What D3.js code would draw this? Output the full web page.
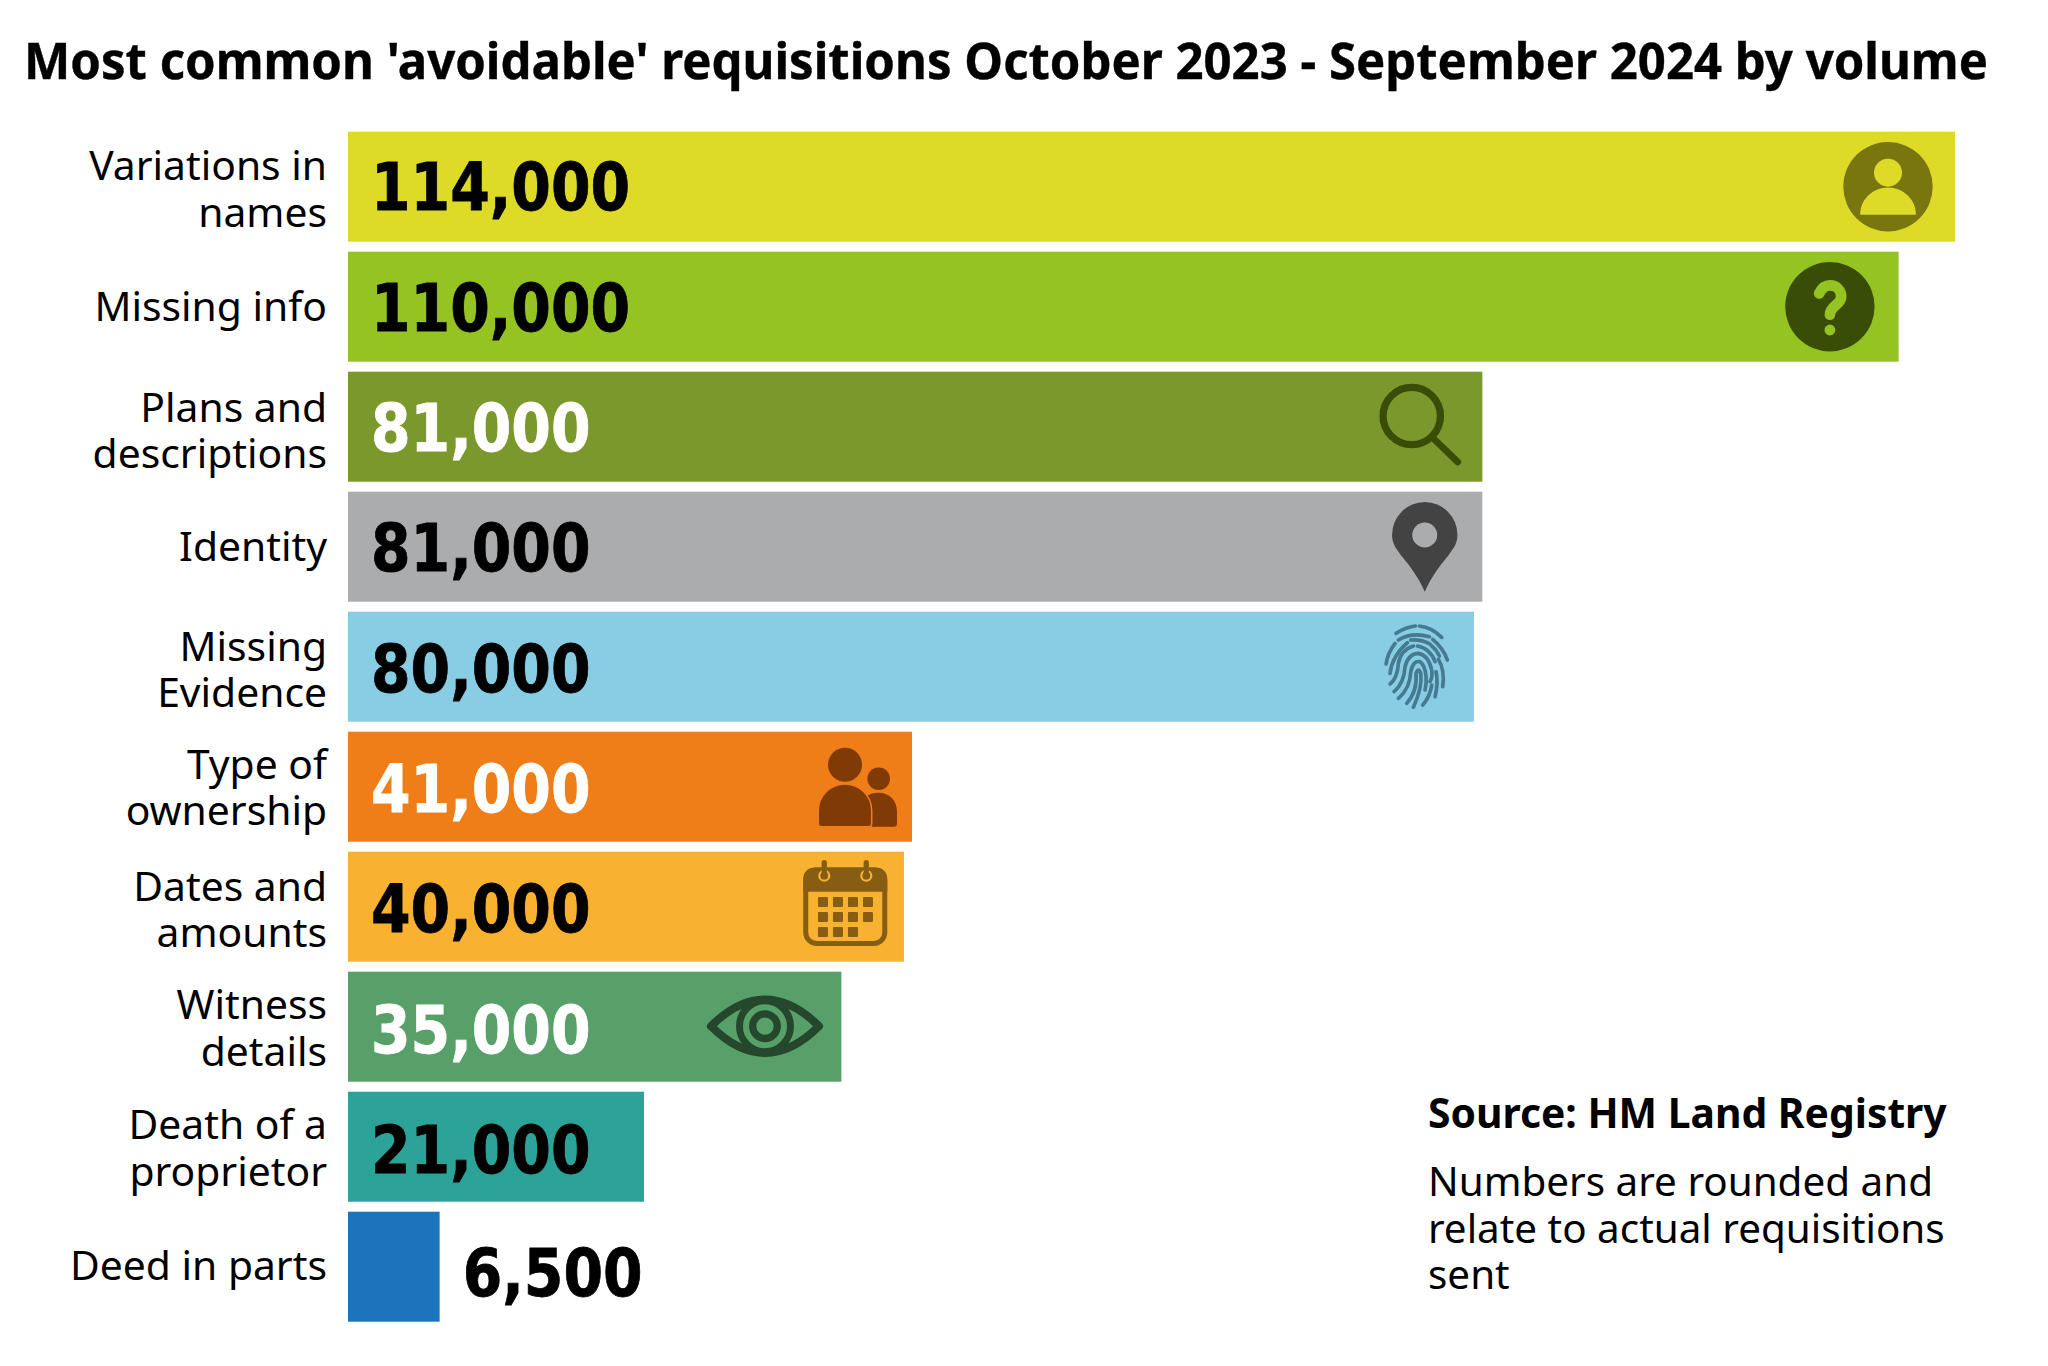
<!DOCTYPE html>
<html>
<head>
<meta charset="utf-8">
<script src="https://cdnjs.cloudflare.com/ajax/libs/d3/7.8.5/d3.min.js"></script>
<style>
  html, body { margin: 0; background: #fff; }
  text { font-family: "Noto Sans", sans-serif; fill: #000; }
</style>
</head>
<body>
<div id="chart"></div>
<script>
// data
const categories = ['Variations in|names', 'Missing info', 'Plans and|descriptions', 'Identity', 'Missing|Evidence',
  'Type of|ownership', 'Dates and|amounts', 'Witness|details', 'Death of a|proprietor', 'Deed in parts']
// bar lengths do not quite follow the printed labels, so they are kept apart
const barValues = [114000, 110000, 80470, 80470, 79880, 40010, 39440, 35000, 21000, 6500]
const valueLabels = ['114,000', '110,000', '81,000', '81,000', '80,000', '41,000', '40,000', '35,000', '21,000', '6,500']
const barColors = ['#dddb27', '#95c322', '#7a982c', '#abacae', '#88cde4', '#ef7d18', '#f8b22f', '#58a069', '#2ca398', '#1c75bc']
const iconColors = ['#79760f', '#3a4d07', '#3a4d07', '#434343', '#457a90', '#803a06', '#865d13', '#25482c']
const whiteLabels = ['Plans and|descriptions', 'Type of|ownership', 'Witness|details']
const iconNames = ['person', 'question', 'search', 'pin', 'finger', 'people', 'calendar', 'eye']
const title = "Most common 'avoidable' requisitions October 2023 - September 2024 by volume"
const sourceLine = 'Source: HM Land Registry'
const noteLines = ['Numbers are rounded and', 'relate to actual requisitions', 'sent']

const width = 2048
const height = 1366

const svg = d3.select('#chart').append('svg')
  .attr('width', width)
  .attr('height', height)
  .style('display', 'block')

const xScale = d3.scaleLinear().domain([0, 114000]).range([348, 1955])
const yScale = d3.scaleBand().domain(categories).range([131.7, 1321.7]).paddingInner(10 / 120).paddingOuter(0)
const color = d3.scaleOrdinal().domain(categories).range(barColors)
const centre = d => yScale(d) + yScale.bandwidth() / 2

// squeeze a text sideways to a share of its natural width
function condense(sel, share) {
  sel.each(function () {
    const len = this.getComputedTextLength()
    d3.select(this).attr('textLength', len * share).attr('lengthAdjust', 'spacingAndGlyphs')
  })
}

svg.append('text')
  .attr('x', 24)
  .attr('y', 79.3)
  .attr('font-size', 50)
  .attr('font-weight', 700)
  .attr('textLength', 1964)
  .attr('lengthAdjust', 'spacingAndGlyphs')
  .style('stroke', '#000')
  .style('stroke-width', 0.4)
  .text(title)

// bars
svg.selectAll('rect.bar')
  .data(categories)
  .join('rect')
  .attr('class', 'bar')
  .attr('x', xScale(0))
  .attr('y', d => yScale(d))
  .attr('width', (d, i) => xScale(barValues[i]) - xScale(0))
  .attr('height', yScale.bandwidth())
  .attr('fill', d => color(d))

// category labels, right aligned against the bars
const labelNudge = [0, 0, 1.5, 0, 0.5, -1.3, 0.5, -1, -1, -1]
svg.selectAll('text.cat')
  .data(categories)
  .join('text')
  .attr('class', 'cat')
  .attr('text-anchor', 'end')
  .attr('font-size', 40.8)
  .each(function (d, i) {
    const lines = d.split('|')
    const y0 = (lines.length > 1 ? centre(d) - 6.7 : centre(d) + 14) + labelNudge[i]
    d3.select(this).selectAll('tspan')
      .data(lines)
      .join('tspan')
      .attr('x', 327)
      .attr('y', (l, j) => y0 + j * 46.7)
      .text(l => l)
  })

// value labels, the last one sits outside its bar
const valueLabelSel = svg.selectAll('text.val')
  .data(categories)
  .join('text')
  .attr('class', 'val')
  .attr('x', (d, i) => i === 9 ? xScale(barValues[i]) + 23 : xScale(0) + 23)
  .attr('y', (d, i) => i === 9 ? centre(d) + 29.5 : centre(d) + 23.5 + i * 0.33)
  .attr('font-size', 66)
  .attr('font-weight', 700)
  .style('font-family', '"DejaVu Sans", sans-serif')
  .style('fill', d => whiteLabels.includes(d) ? '#fff' : '#000')
  .style('stroke', d => whiteLabels.includes(d) ? '#fff' : '#000')
  .style('stroke-width', 0.8)
  .text((d, i) => valueLabels[i])
valueLabelSel.call(condense, 0.862)

// icons are drawn in their own local space, offset back from the bar end
const iconOffsets = {
  person: [-67, 0], question: [-68.7, 0], search: [-70.6, -10.7], pin: [-57.6, -11.7],
  finger: [-57.3, 0], people: [-67, -22], calendar: [-58.7, 0], eye: [-76.4, -0.5]
}

const icons = {
  person(g, c, bg) {
    g.append('circle').attr('r', 44.7).attr('fill', c)
    g.append('circle').attr('cy', -14).attr('r', 14).attr('fill', bg)
    g.append('path').attr('d', 'M-28,28 A28,27.3 0 0 1 28,28 Z').attr('fill', bg)
  },
  question(g, c, bg) {
    g.append('circle').attr('r', 44.7).attr('fill', c)
    g.append('path')
      .attr('d', 'M-10.7,-13.3 C-8,-19 -4,-21.3 0,-21.3 C7,-21.3 11.3,-16 11.3,-10 C11.3,-2 0,-1 0,8')
      .attr('fill', 'none').attr('stroke', bg).attr('stroke-width', 10.7).attr('stroke-linecap', 'round')
    g.append('circle').attr('cy', 23.3).attr('r', 5.4).attr('fill', bg)
  },
  search(g, c) {
    g.append('circle').attr('r', 28.7).attr('fill', 'none').attr('stroke', c).attr('stroke-width', 7.3)
    g.append('line').attr('x1', 21.6).attr('y1', 22.3).attr('x2', 46).attr('y2', 46)
      .attr('stroke', c).attr('stroke-width', 6.7).attr('stroke-linecap', 'round')
  },
  pin(g, c, bg) {
    g.append('path')
      .attr('d', 'M-32.7,0 A32.7,33 0 0 1 32.7,0 C32.7,9 28,14 24,20 C14,32 6,43 0,56.7 C-6,43 -14,32 -24,20 C-28,14 -32.7,9 -32.7,0 Z')
      .attr('fill', c)
    g.append('circle').attr('r', 12.5).attr('fill', bg)
  },
  finger(g, c) {
    // traced in 3x units from the top left of a 80x100 box
    const strokes = [
      'M48,40 Q75,22 106,18', 'M118,18 Q155,22 185,52', 'M55,60 Q95,35 148,50', 'M158,58 Q190,85 202,120',
      'M45,70 Q22,100 18,132', 'M30,160 Q35,110 82,68', 'M92,60 Q125,58 150,72', 'M155,78 Q170,90 178,108',
      'M30,192 Q52,175 55,130 Q62,90 100,78', 'M112,78 Q150,85 165,125', 'M175,118 Q195,150 188,200',
      'M168,155 Q175,190 165,230', 'M42,215 Q72,190 75,140 Q85,100 115,100 Q145,105 155,150 Q158,170 150,185',
      'M55,235 Q90,205 92,155 Q100,120 120,125 Q135,135 138,170 Q140,190 135,210',
      'M80,250 Q112,215 108,160 Q115,140 122,160 Q128,200 100,262', 'M128,255 Q150,230 155,195'
    ]
    const f = g.append('g').attr('transform', 'scale(0.3333) translate(-110,-140)')
    f.selectAll('path').data(strokes).join('path')
      .attr('d', d => d)
      .attr('fill', 'none').attr('stroke', c).attr('stroke-width', 11).attr('stroke-linecap', 'round')
  },
  people(g, c, bg) {
    g.append('path')
      .attr('d', 'M26.7,62 L49,62 Q52,62 52,59 L52,47 C52,36 45,28 33,28 C29,28 25,29 22,31 Z')
      .attr('fill', c)
    g.append('circle').attr('cx', 33.7).attr('cy', 14).attr('r', 11.3).attr('fill', c)
    g.append('path')
      .attr('d', 'M-26.7,59 L-26.7,46 A26.7,26.7 0 0 1 26.7,46 L26.7,59 Q26.7,62 23.7,62 L-23.7,62 Q-26.7,62 -26.7,59 Z')
      .attr('fill', c).attr('stroke', bg).attr('stroke-width', 1.5)
    g.append('circle').attr('r', 17).attr('fill', c)
  },
  calendar(g, c, bg) {
    g.append('rect').attr('x', -39.5).attr('y', -36.7).attr('width', 79).attr('height', 73.5).attr('rx', 11)
      .attr('fill', 'none').attr('stroke', c).attr('stroke-width', 5)
    g.append('path').attr('d', 'M-42,-15 L-42,-28 A11,11 0 0 1 -31,-39.2 L31,-39.2 A11,11 0 0 1 42,-28 L42,-15 Z').attr('fill', c)
    for (const cx of [-21, 21]) {
      g.append('circle').attr('cx', cx).attr('cy', -31).attr('r', 5).attr('fill', 'none').attr('stroke', bg).attr('stroke-width', 2.2)
      g.append('line').attr('x1', cx).attr('y1', -44).attr('x2', cx).attr('y2', -31)
        .attr('stroke', c).attr('stroke-width', 5.3).attr('stroke-linecap', 'round')
    }
    for (let r = 0; r < 3; r++) {
      for (let k = 0; k < (r === 2 ? 3 : 4); k++) {
        g.append('rect').attr('x', -27.3 + k * 15).attr('y', -9.7 + r * 15).attr('width', 10).attr('height', 10).attr('rx', 1).attr('fill', c)
      }
    }
  },
  eye(g, c) {
    g.append('path')
      .attr('d', 'M-54,0 C-36,-18 -18,-26.7 0,-26.7 C18,-26.7 36,-18 54,0 C36,18 18,26.7 0,26.7 C-18,26.7 -36,18 -54,0 Z')
      .attr('fill', 'none').attr('stroke', c).attr('stroke-width', 8).attr('stroke-linejoin', 'round')
    g.append('circle').attr('r', 25.5).attr('fill', 'none').attr('stroke', c).attr('stroke-width', 7)
    g.append('circle').attr('r', 12.3).attr('fill', 'none').attr('stroke', c).attr('stroke-width', 7.3)
  }
}

iconNames.forEach((name, i) => {
  const d = categories[i]
  const [dx, dy] = iconOffsets[name]
  const g = svg.append('g')
    .attr('transform', `translate(${xScale(barValues[i]) + dx},${centre(d) + dy})`)
  icons[name](g, iconColors[i], barColors[i])
})

// source block
svg.append('text')
  .attr('x', 1428)
  .attr('y', 1127.7)
  .attr('font-size', 40.8)
  .attr('font-weight', 700)
  .text(sourceLine)

svg.selectAll('text.note')
  .data(noteLines)
  .join('text')
  .attr('class', 'note')
  .attr('x', 1428)
  .attr('y', (d, i) => 1195.7 + i * 46.8)
  .attr('font-size', 40.4)
  .text(d => d)
</script>
</body>
</html>
